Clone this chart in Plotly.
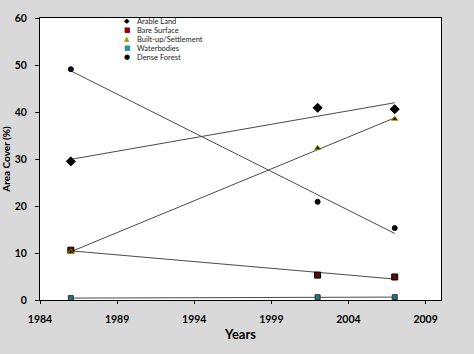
import numpy as np
import plotly.graph_objects as go

years = [1986, 2002, 2007]
series_names = ["Arable Land", "Bare Surface", "Built-up/Settlement", "Waterbodies", "Dense Forest"]
arable_land = [29.5, 40.9, 40.6]
bare_surface = [10.6, 5.3, 4.9]
built_up = [10.2, 32.3, 38.5]
waterbodies = [0.4, 0.6, 0.6]
dense_forest = [49.1, 20.9, 15.3]
x_ticks = [1984, 1989, 1994, 1999, 2004, 2009]
y_ticks = [0, 10, 20, 30, 40, 50, 60]

values = [arable_land, bare_surface, built_up, waterbodies, dense_forest]
symbols = ["diamond", "square", "triangle-up", "square", "circle"]
colors = ["#000000", "#5c0a0a", "#2b2b00", "#2e6e7a", "#0a0a1e"]
edge_colors = ["#000000", "#000000", "#b8b800", "#1a3a40", "#000000"]
edge_widths = [1, 1, 0.6, 1, 1]
sizes = [7, 6, 6, 5, 5]
glyphs = ["\u25C6", "\u25A0", "\u25B2", "\u25A0", "\u25CF"]
glyph_colors = ["#000000", "#8b0000", "#9aa000", "#2e8fa0", "#000000"]

fig = go.Figure()

# linear trendlines
for vals in values:
    coef = np.polyfit(years, vals, 1)
    xs = [min(years), max(years)]
    ys = list(np.polyval(coef, xs))
    fig.add_trace(go.Scatter(x=xs, y=ys, mode="lines",
                             line=dict(color="#4a4a4a", width=1),
                             showlegend=False, hoverinfo="skip"))

for name, vals, sym, c, ec, ew, s in zip(series_names, values, symbols, colors, edge_colors, edge_widths, sizes):
    fig.add_trace(go.Scatter(x=years, y=vals, mode="markers", name=name,
                             marker=dict(symbol=sym, color=c, size=s,
                                         line=dict(color=ec, width=ew)),
                             showlegend=False))

# compact legend drawn with annotations
leg_y = [0.988, 0.956, 0.924, 0.892, 0.860]
for name, g, gc, yy in zip(series_names, glyphs, glyph_colors, leg_y):
    fig.add_annotation(x=0.217, y=yy, xref="paper", yref="paper", text=g,
                       showarrow=False, xanchor="center", yanchor="middle",
                       font=dict(size=7, color=gc, family="DejaVu Sans"))
    fig.add_annotation(x=0.238, y=yy, xref="paper", yref="paper", text=name,
                       showarrow=False, xanchor="left", yanchor="middle",
                       font=dict(size=7.5, color="#222222", family="Lato"))

fig.update_layout(
    width=474, height=354,
    margin=dict(l=40, r=33, t=18, b=54),
    paper_bgcolor="#d9d9d9",
    plot_bgcolor="#ffffff",
    font=dict(family="Lato", color="#000000"),
    xaxis=dict(range=[1984, 2010], tickvals=x_ticks, ticktext=[str(t) for t in x_ticks],
               automargin=False,
               showgrid=False, zeroline=False, showline=True, linecolor="#000000",
               linewidth=1, mirror=True, ticks="outside", ticklen=3, tickcolor="#000000",
               tickfont=dict(size=10.5, family="Lato", weight="bold"),
               ticklabelstandoff=6,
               title=dict(text="<b>Years</b>", font=dict(size=13, family="Lato"), standoff=6)),
    yaxis=dict(range=[0, 60], tickvals=y_ticks,
               automargin=False,
               showgrid=False, zeroline=False, showline=True, linecolor="#000000",
               linewidth=1, mirror=True, ticks="outside", ticklen=4, tickcolor="#000000",
               tickfont=dict(size=10.5, family="Lato", weight="bold"),
               ticklabelstandoff=6,
               title=dict(text="<b>Area Cover (%)</b>", font=dict(size=10, family="Lato"), standoff=3)),
)

fig.write_html("out.html")
